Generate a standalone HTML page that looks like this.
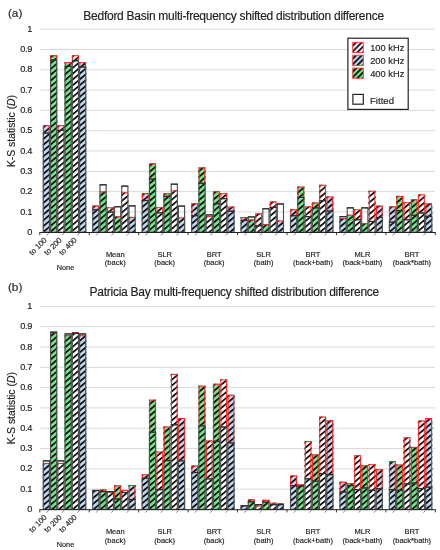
<!DOCTYPE html>
<html><head><meta charset="utf-8"><style>
html,body{margin:0;padding:0;background:#fff;}
svg{display:block;}
text{font-family:'Liberation Sans', Arial, sans-serif;fill:#222;stroke:#222;stroke-width:0.16px;}
</style></head><body>
<svg width="440" height="550" viewBox="0 0 440 550">
<defs>

<pattern id="pw" patternUnits="userSpaceOnUse" width="4.45" height="4.45" patternTransform="rotate(50)"><rect width="4.45" height="4.45" fill="#ffffff"/><rect width="1.65" height="4.45" fill="#000"/></pattern>
<pattern id="pb" patternUnits="userSpaceOnUse" width="4.45" height="4.45" patternTransform="rotate(50)"><rect width="4.45" height="4.45" fill="#bdd7ee"/><rect width="1.65" height="4.45" fill="#000"/></pattern>
<pattern id="pg" patternUnits="userSpaceOnUse" width="4.45" height="4.45" patternTransform="rotate(50)"><rect width="4.45" height="4.45" fill="#6ce888"/><rect width="1.65" height="4.45" fill="#000"/></pattern>
</defs>
<rect width="440" height="550" fill="#fff"/>
<line x1="39.8" x2="435" y1="211.90" y2="211.90" stroke="#d9d9d9" stroke-width="1"/>
<line x1="39.8" x2="435" y1="191.60" y2="191.60" stroke="#d9d9d9" stroke-width="1"/>
<line x1="39.8" x2="435" y1="171.30" y2="171.30" stroke="#d9d9d9" stroke-width="1"/>
<line x1="39.8" x2="435" y1="151.00" y2="151.00" stroke="#d9d9d9" stroke-width="1"/>
<line x1="39.8" x2="435" y1="130.70" y2="130.70" stroke="#d9d9d9" stroke-width="1"/>
<line x1="39.8" x2="435" y1="110.40" y2="110.40" stroke="#d9d9d9" stroke-width="1"/>
<line x1="39.8" x2="435" y1="90.10" y2="90.10" stroke="#d9d9d9" stroke-width="1"/>
<line x1="39.8" x2="435" y1="69.80" y2="69.80" stroke="#d9d9d9" stroke-width="1"/>
<line x1="39.8" x2="435" y1="49.50" y2="49.50" stroke="#d9d9d9" stroke-width="1"/>
<line x1="39.8" x2="435" y1="29.20" y2="29.20" stroke="#d9d9d9" stroke-width="1"/>
<text x="32.0" y="234.80" font-size="9.2" letter-spacing="-0.3" text-anchor="end">0</text>
<text x="32.0" y="214.50" font-size="9.2" letter-spacing="-0.3" text-anchor="end">0.1</text>
<text x="32.0" y="194.20" font-size="9.2" letter-spacing="-0.3" text-anchor="end">0.2</text>
<text x="32.0" y="173.90" font-size="9.2" letter-spacing="-0.3" text-anchor="end">0.3</text>
<text x="32.0" y="153.60" font-size="9.2" letter-spacing="-0.3" text-anchor="end">0.4</text>
<text x="32.0" y="133.30" font-size="9.2" letter-spacing="-0.3" text-anchor="end">0.5</text>
<text x="32.0" y="113.00" font-size="9.2" letter-spacing="-0.3" text-anchor="end">0.6</text>
<text x="32.0" y="92.70" font-size="9.2" letter-spacing="-0.3" text-anchor="end">0.7</text>
<text x="32.0" y="72.40" font-size="9.2" letter-spacing="-0.3" text-anchor="end">0.8</text>
<text x="32.0" y="52.10" font-size="9.2" letter-spacing="-0.3" text-anchor="end">0.9</text>
<text x="32.0" y="31.80" font-size="9.2" letter-spacing="-0.3" text-anchor="end">1</text>
<text x="233.6" y="19.70" font-size="12" letter-spacing="-0.265" text-anchor="middle">Bedford Basin multi-frequency shifted distribution difference</text>
<text x="7.9" y="17.40" font-size="11.8">(a)</text>
<text transform="translate(15.4,131.00) rotate(-90)" font-size="10.4" text-anchor="middle">K-S statistic (<tspan font-style="italic">D</tspan>)</text>
<rect x="42.77" y="125.20" width="7.25" height="107.00" fill="url(#pb)"/>
<rect x="43.07" y="125.20" width="6.65" height="1.00" fill="#ff2020"/>
<rect x="43.07" y="125.20" width="1.00" height="7.40" fill="#ff2020"/>
<rect x="48.72" y="125.20" width="1.00" height="7.40" fill="#ff2020"/>
<rect x="50.02" y="55.20" width="7.25" height="177.00" fill="url(#pg)"/>
<rect x="50.32" y="55.20" width="6.65" height="1.00" fill="#ff2020"/>
<rect x="50.32" y="55.20" width="1.00" height="4.30" fill="#ff2020"/>
<rect x="55.97" y="55.20" width="1.00" height="4.30" fill="#ff2020"/>
<rect x="57.27" y="125.20" width="7.25" height="107.00" fill="url(#pw)"/>
<rect x="57.57" y="125.20" width="6.65" height="1.00" fill="#ff2020"/>
<rect x="57.57" y="125.20" width="1.00" height="4.60" fill="#ff2020"/>
<rect x="63.22" y="125.20" width="1.00" height="4.60" fill="#ff2020"/>
<rect x="64.52" y="62.10" width="7.25" height="170.10" fill="url(#pg)"/>
<rect x="64.82" y="62.10" width="6.65" height="1.00" fill="#ff2020"/>
<rect x="64.82" y="62.10" width="1.00" height="3.70" fill="#ff2020"/>
<rect x="70.47" y="62.10" width="1.00" height="3.70" fill="#ff2020"/>
<rect x="71.77" y="55.20" width="7.25" height="177.00" fill="url(#pw)"/>
<rect x="72.07" y="55.20" width="6.65" height="1.00" fill="#ff2020"/>
<rect x="72.07" y="55.20" width="1.00" height="5.00" fill="#ff2020"/>
<rect x="77.72" y="55.20" width="1.00" height="5.00" fill="#ff2020"/>
<rect x="79.02" y="62.20" width="7.25" height="170.00" fill="url(#pb)"/>
<rect x="79.32" y="62.20" width="6.65" height="1.00" fill="#ff2020"/>
<rect x="79.32" y="62.20" width="1.00" height="4.20" fill="#ff2020"/>
<rect x="84.97" y="62.20" width="1.00" height="4.20" fill="#ff2020"/>
<rect x="43.32" y="133.15" width="6.15" height="99.05" fill="none" stroke="#505050" stroke-width="1.15"/>
<rect x="42.97" y="132.60" width="6.85" height="1.1" fill="#2a2a2a"/>
<rect x="50.57" y="60.05" width="6.15" height="172.15" fill="none" stroke="#505050" stroke-width="1.15"/>
<rect x="50.22" y="59.50" width="6.85" height="1.1" fill="#2a2a2a"/>
<rect x="57.82" y="130.35" width="6.15" height="101.85" fill="none" stroke="#505050" stroke-width="1.15"/>
<rect x="57.47" y="129.80" width="6.85" height="1.1" fill="#2a2a2a"/>
<rect x="65.07" y="66.35" width="6.15" height="165.85" fill="none" stroke="#505050" stroke-width="1.15"/>
<rect x="64.72" y="65.80" width="6.85" height="1.1" fill="#2a2a2a"/>
<rect x="72.32" y="60.75" width="6.15" height="171.45" fill="none" stroke="#505050" stroke-width="1.15"/>
<rect x="71.97" y="60.20" width="6.85" height="1.1" fill="#2a2a2a"/>
<rect x="79.57" y="66.95" width="6.15" height="165.25" fill="none" stroke="#505050" stroke-width="1.15"/>
<rect x="79.22" y="66.40" width="6.85" height="1.1" fill="#2a2a2a"/>
<rect x="92.21" y="205.50" width="7.25" height="26.70" fill="url(#pb)"/>
<rect x="92.51" y="205.50" width="6.65" height="1.00" fill="#ff2020"/>
<rect x="92.51" y="205.50" width="1.00" height="3.80" fill="#ff2020"/>
<rect x="98.16" y="205.50" width="1.00" height="3.80" fill="#ff2020"/>
<rect x="99.46" y="191.40" width="7.25" height="40.80" fill="url(#pg)"/>
<rect x="99.76" y="191.40" width="6.65" height="1.00" fill="#ff2020"/>
<rect x="106.71" y="207.30" width="7.25" height="24.90" fill="url(#pw)"/>
<rect x="107.01" y="207.30" width="6.65" height="1.00" fill="#ff2020"/>
<rect x="107.01" y="207.30" width="1.00" height="4.20" fill="#ff2020"/>
<rect x="112.66" y="207.30" width="1.00" height="4.20" fill="#ff2020"/>
<rect x="113.96" y="216.30" width="7.25" height="15.90" fill="url(#pg)"/>
<rect x="114.26" y="216.30" width="6.65" height="1.00" fill="#ff2020"/>
<rect x="121.21" y="192.40" width="7.25" height="39.80" fill="url(#pw)"/>
<rect x="121.51" y="192.40" width="6.65" height="1.00" fill="#ff2020"/>
<rect x="128.46" y="216.90" width="7.25" height="15.30" fill="url(#pb)"/>
<rect x="128.76" y="216.90" width="6.65" height="1.00" fill="#ff2020"/>
<rect x="92.76" y="209.85" width="6.15" height="22.35" fill="none" stroke="#505050" stroke-width="1.15"/>
<rect x="92.41" y="209.30" width="6.85" height="1.1" fill="#2a2a2a"/>
<rect x="100.01" y="184.80" width="6.15" height="47.40" fill="none" stroke="#505050" stroke-width="1.15"/>
<rect x="99.66" y="184.25" width="6.85" height="1.1" fill="#2a2a2a"/>
<rect x="107.26" y="212.05" width="6.15" height="20.15" fill="none" stroke="#505050" stroke-width="1.15"/>
<rect x="106.91" y="211.50" width="6.85" height="1.1" fill="#2a2a2a"/>
<rect x="114.51" y="206.75" width="6.15" height="25.45" fill="none" stroke="#505050" stroke-width="1.15"/>
<rect x="114.16" y="206.20" width="6.85" height="1.1" fill="#2a2a2a"/>
<rect x="121.76" y="186.15" width="6.15" height="46.05" fill="none" stroke="#505050" stroke-width="1.15"/>
<rect x="121.41" y="185.60" width="6.85" height="1.1" fill="#2a2a2a"/>
<rect x="129.01" y="205.85" width="6.15" height="26.35" fill="none" stroke="#505050" stroke-width="1.15"/>
<rect x="128.66" y="205.30" width="6.85" height="1.1" fill="#2a2a2a"/>
<rect x="141.65" y="193.00" width="7.25" height="39.20" fill="url(#pb)"/>
<rect x="141.95" y="193.00" width="6.65" height="1.00" fill="#ff2020"/>
<rect x="141.95" y="193.00" width="1.00" height="7.00" fill="#ff2020"/>
<rect x="147.60" y="193.00" width="1.00" height="7.00" fill="#ff2020"/>
<rect x="148.90" y="163.30" width="7.25" height="68.90" fill="url(#pg)"/>
<rect x="149.20" y="163.30" width="6.65" height="1.00" fill="#ff2020"/>
<rect x="149.20" y="163.30" width="1.00" height="15.20" fill="#ff2020"/>
<rect x="154.85" y="163.30" width="1.00" height="15.20" fill="#ff2020"/>
<rect x="156.15" y="207.20" width="7.25" height="25.00" fill="url(#pw)"/>
<rect x="156.45" y="207.20" width="6.65" height="1.00" fill="#ff2020"/>
<rect x="156.45" y="207.20" width="1.00" height="5.10" fill="#ff2020"/>
<rect x="162.10" y="207.20" width="1.00" height="5.10" fill="#ff2020"/>
<rect x="163.40" y="193.20" width="7.25" height="39.00" fill="url(#pg)"/>
<rect x="163.70" y="193.20" width="6.65" height="1.00" fill="#ff2020"/>
<rect x="163.70" y="193.20" width="1.00" height="2.60" fill="#ff2020"/>
<rect x="169.35" y="193.20" width="1.00" height="2.60" fill="#ff2020"/>
<rect x="170.65" y="190.40" width="7.25" height="41.80" fill="url(#pw)"/>
<rect x="170.95" y="190.40" width="6.65" height="1.00" fill="#ff2020"/>
<rect x="177.90" y="217.40" width="7.25" height="14.80" fill="url(#pb)"/>
<rect x="178.20" y="217.40" width="6.65" height="1.00" fill="#ff2020"/>
<rect x="142.20" y="200.55" width="6.15" height="31.65" fill="none" stroke="#505050" stroke-width="1.15"/>
<rect x="141.85" y="200.00" width="6.85" height="1.1" fill="#2a2a2a"/>
<rect x="149.45" y="179.05" width="6.15" height="53.15" fill="none" stroke="#505050" stroke-width="1.15"/>
<rect x="149.10" y="178.50" width="6.85" height="1.1" fill="#2a2a2a"/>
<rect x="156.70" y="212.85" width="6.15" height="19.35" fill="none" stroke="#505050" stroke-width="1.15"/>
<rect x="156.35" y="212.30" width="6.85" height="1.1" fill="#2a2a2a"/>
<rect x="163.95" y="196.35" width="6.15" height="35.85" fill="none" stroke="#505050" stroke-width="1.15"/>
<rect x="163.60" y="195.80" width="6.85" height="1.1" fill="#2a2a2a"/>
<rect x="171.20" y="184.15" width="6.15" height="48.05" fill="none" stroke="#505050" stroke-width="1.15"/>
<rect x="170.85" y="183.60" width="6.85" height="1.1" fill="#2a2a2a"/>
<rect x="178.45" y="206.05" width="6.15" height="26.15" fill="none" stroke="#505050" stroke-width="1.15"/>
<rect x="178.10" y="205.50" width="6.85" height="1.1" fill="#2a2a2a"/>
<rect x="191.09" y="203.20" width="7.25" height="29.00" fill="url(#pb)"/>
<rect x="191.39" y="203.20" width="6.65" height="1.00" fill="#ff2020"/>
<rect x="191.39" y="203.20" width="1.00" height="11.90" fill="#ff2020"/>
<rect x="197.04" y="203.20" width="1.00" height="11.90" fill="#ff2020"/>
<rect x="198.34" y="167.40" width="7.25" height="64.80" fill="url(#pg)"/>
<rect x="198.64" y="167.40" width="6.65" height="1.00" fill="#ff2020"/>
<rect x="198.64" y="167.40" width="1.00" height="15.30" fill="#ff2020"/>
<rect x="204.29" y="167.40" width="1.00" height="15.30" fill="#ff2020"/>
<rect x="205.59" y="215.90" width="7.25" height="16.30" fill="url(#pw)"/>
<rect x="205.89" y="215.90" width="6.65" height="1.00" fill="#ff2020"/>
<rect x="212.84" y="191.25" width="7.25" height="40.95" fill="url(#pg)"/>
<rect x="213.14" y="191.25" width="6.65" height="1.00" fill="#ff2020"/>
<rect x="213.14" y="191.25" width="1.00" height="11.95" fill="#ff2020"/>
<rect x="218.79" y="191.25" width="1.00" height="11.95" fill="#ff2020"/>
<rect x="220.09" y="193.20" width="7.25" height="39.00" fill="url(#pw)"/>
<rect x="220.39" y="193.20" width="6.65" height="1.00" fill="#ff2020"/>
<rect x="220.39" y="193.20" width="1.00" height="4.90" fill="#ff2020"/>
<rect x="226.04" y="193.20" width="1.00" height="4.90" fill="#ff2020"/>
<rect x="227.34" y="206.60" width="7.25" height="25.60" fill="url(#pb)"/>
<rect x="227.64" y="206.60" width="6.65" height="1.00" fill="#ff2020"/>
<rect x="227.64" y="206.60" width="1.00" height="4.00" fill="#ff2020"/>
<rect x="233.29" y="206.60" width="1.00" height="4.00" fill="#ff2020"/>
<rect x="191.64" y="215.65" width="6.15" height="16.55" fill="none" stroke="#505050" stroke-width="1.15"/>
<rect x="191.29" y="215.10" width="6.85" height="1.1" fill="#2a2a2a"/>
<rect x="198.89" y="183.25" width="6.15" height="48.95" fill="none" stroke="#505050" stroke-width="1.15"/>
<rect x="198.54" y="182.70" width="6.85" height="1.1" fill="#2a2a2a"/>
<rect x="206.14" y="214.85" width="6.15" height="17.35" fill="none" stroke="#505050" stroke-width="1.15"/>
<rect x="205.79" y="214.30" width="6.85" height="1.1" fill="#2a2a2a"/>
<rect x="213.39" y="203.75" width="6.15" height="28.45" fill="none" stroke="#505050" stroke-width="1.15"/>
<rect x="213.04" y="203.20" width="6.85" height="1.1" fill="#2a2a2a"/>
<rect x="220.64" y="198.65" width="6.15" height="33.55" fill="none" stroke="#505050" stroke-width="1.15"/>
<rect x="220.29" y="198.10" width="6.85" height="1.1" fill="#2a2a2a"/>
<rect x="227.89" y="211.15" width="6.15" height="21.05" fill="none" stroke="#505050" stroke-width="1.15"/>
<rect x="227.54" y="210.60" width="6.85" height="1.1" fill="#2a2a2a"/>
<rect x="240.53" y="217.00" width="7.25" height="15.20" fill="url(#pb)"/>
<rect x="240.83" y="217.00" width="6.65" height="1.00" fill="#ff2020"/>
<rect x="240.83" y="217.00" width="1.00" height="2.80" fill="#ff2020"/>
<rect x="246.48" y="217.00" width="1.00" height="2.80" fill="#ff2020"/>
<rect x="247.78" y="219.50" width="7.25" height="12.70" fill="url(#pg)"/>
<rect x="248.08" y="219.50" width="6.65" height="1.00" fill="#ff2020"/>
<rect x="255.03" y="213.30" width="7.25" height="18.90" fill="url(#pw)"/>
<rect x="255.33" y="213.30" width="6.65" height="1.00" fill="#ff2020"/>
<rect x="255.33" y="213.30" width="1.00" height="11.90" fill="#ff2020"/>
<rect x="260.98" y="213.30" width="1.00" height="11.90" fill="#ff2020"/>
<rect x="262.28" y="224.10" width="7.25" height="8.10" fill="url(#pg)"/>
<rect x="262.58" y="224.10" width="6.65" height="1.00" fill="#ff2020"/>
<rect x="269.53" y="201.40" width="7.25" height="30.80" fill="url(#pw)"/>
<rect x="269.83" y="201.40" width="6.65" height="1.00" fill="#ff2020"/>
<rect x="269.83" y="201.40" width="1.00" height="5.40" fill="#ff2020"/>
<rect x="275.48" y="201.40" width="1.00" height="5.40" fill="#ff2020"/>
<rect x="276.78" y="220.50" width="7.25" height="11.70" fill="url(#pb)"/>
<rect x="277.08" y="220.50" width="6.65" height="1.00" fill="#ff2020"/>
<rect x="241.08" y="220.35" width="6.15" height="11.85" fill="none" stroke="#505050" stroke-width="1.15"/>
<rect x="240.73" y="219.80" width="6.85" height="1.1" fill="#2a2a2a"/>
<rect x="248.33" y="216.95" width="6.15" height="15.25" fill="none" stroke="#505050" stroke-width="1.15"/>
<rect x="247.98" y="216.40" width="6.85" height="1.1" fill="#2a2a2a"/>
<rect x="255.58" y="225.75" width="6.15" height="6.45" fill="none" stroke="#505050" stroke-width="1.15"/>
<rect x="255.23" y="225.20" width="6.85" height="1.1" fill="#2a2a2a"/>
<rect x="262.83" y="208.75" width="6.15" height="23.45" fill="none" stroke="#505050" stroke-width="1.15"/>
<rect x="262.48" y="208.20" width="6.85" height="1.1" fill="#2a2a2a"/>
<rect x="270.08" y="207.35" width="6.15" height="24.85" fill="none" stroke="#505050" stroke-width="1.15"/>
<rect x="269.73" y="206.80" width="6.85" height="1.1" fill="#2a2a2a"/>
<rect x="277.33" y="203.95" width="6.15" height="28.25" fill="none" stroke="#505050" stroke-width="1.15"/>
<rect x="276.98" y="203.40" width="6.85" height="1.1" fill="#2a2a2a"/>
<rect x="289.97" y="209.30" width="7.25" height="22.90" fill="url(#pb)"/>
<rect x="290.27" y="209.30" width="6.65" height="1.00" fill="#ff2020"/>
<rect x="290.27" y="209.30" width="1.00" height="5.90" fill="#ff2020"/>
<rect x="295.92" y="209.30" width="1.00" height="5.90" fill="#ff2020"/>
<rect x="297.22" y="186.60" width="7.25" height="45.60" fill="url(#pg)"/>
<rect x="297.52" y="186.60" width="6.65" height="1.00" fill="#ff2020"/>
<rect x="297.52" y="186.60" width="1.00" height="10.20" fill="#ff2020"/>
<rect x="303.17" y="186.60" width="1.00" height="10.20" fill="#ff2020"/>
<rect x="304.47" y="206.40" width="7.25" height="25.80" fill="url(#pw)"/>
<rect x="304.77" y="206.40" width="6.65" height="1.00" fill="#ff2020"/>
<rect x="304.77" y="206.40" width="1.00" height="9.70" fill="#ff2020"/>
<rect x="310.42" y="206.40" width="1.00" height="9.70" fill="#ff2020"/>
<rect x="311.72" y="202.50" width="7.25" height="29.70" fill="url(#pg)"/>
<rect x="312.02" y="202.50" width="6.65" height="1.00" fill="#ff2020"/>
<rect x="312.02" y="202.50" width="1.00" height="4.80" fill="#ff2020"/>
<rect x="317.67" y="202.50" width="1.00" height="4.80" fill="#ff2020"/>
<rect x="318.97" y="184.80" width="7.25" height="47.40" fill="url(#pw)"/>
<rect x="319.27" y="184.80" width="6.65" height="1.00" fill="#ff2020"/>
<rect x="319.27" y="184.80" width="1.00" height="15.40" fill="#ff2020"/>
<rect x="324.92" y="184.80" width="1.00" height="15.40" fill="#ff2020"/>
<rect x="326.22" y="196.50" width="7.25" height="35.70" fill="url(#pb)"/>
<rect x="326.52" y="196.50" width="6.65" height="1.00" fill="#ff2020"/>
<rect x="326.52" y="196.50" width="1.00" height="14.00" fill="#ff2020"/>
<rect x="332.17" y="196.50" width="1.00" height="14.00" fill="#ff2020"/>
<rect x="290.52" y="215.75" width="6.15" height="16.45" fill="none" stroke="#505050" stroke-width="1.15"/>
<rect x="290.17" y="215.20" width="6.85" height="1.1" fill="#2a2a2a"/>
<rect x="297.77" y="197.35" width="6.15" height="34.85" fill="none" stroke="#505050" stroke-width="1.15"/>
<rect x="297.42" y="196.80" width="6.85" height="1.1" fill="#2a2a2a"/>
<rect x="305.02" y="216.65" width="6.15" height="15.55" fill="none" stroke="#505050" stroke-width="1.15"/>
<rect x="304.67" y="216.10" width="6.85" height="1.1" fill="#2a2a2a"/>
<rect x="312.27" y="207.85" width="6.15" height="24.35" fill="none" stroke="#505050" stroke-width="1.15"/>
<rect x="311.92" y="207.30" width="6.85" height="1.1" fill="#2a2a2a"/>
<rect x="319.52" y="200.75" width="6.15" height="31.45" fill="none" stroke="#505050" stroke-width="1.15"/>
<rect x="319.17" y="200.20" width="6.85" height="1.1" fill="#2a2a2a"/>
<rect x="326.77" y="211.05" width="6.15" height="21.15" fill="none" stroke="#505050" stroke-width="1.15"/>
<rect x="326.42" y="210.50" width="6.85" height="1.1" fill="#2a2a2a"/>
<rect x="339.41" y="218.10" width="7.25" height="14.10" fill="url(#pb)"/>
<rect x="339.71" y="218.10" width="6.65" height="1.00" fill="#ff2020"/>
<rect x="346.66" y="214.70" width="7.25" height="17.50" fill="url(#pg)"/>
<rect x="346.96" y="214.70" width="6.65" height="1.00" fill="#ff2020"/>
<rect x="353.91" y="209.30" width="7.25" height="22.90" fill="url(#pw)"/>
<rect x="354.21" y="209.30" width="6.65" height="1.00" fill="#ff2020"/>
<rect x="354.21" y="209.30" width="1.00" height="9.90" fill="#ff2020"/>
<rect x="359.86" y="209.30" width="1.00" height="9.90" fill="#ff2020"/>
<rect x="361.16" y="223.20" width="7.25" height="9.00" fill="url(#pg)"/>
<rect x="361.46" y="223.20" width="6.65" height="1.00" fill="#ff2020"/>
<rect x="368.41" y="190.80" width="7.25" height="41.40" fill="url(#pw)"/>
<rect x="368.71" y="190.80" width="6.65" height="1.00" fill="#ff2020"/>
<rect x="368.71" y="190.80" width="1.00" height="30.10" fill="#ff2020"/>
<rect x="374.36" y="190.80" width="1.00" height="30.10" fill="#ff2020"/>
<rect x="375.66" y="205.60" width="7.25" height="26.60" fill="url(#pb)"/>
<rect x="375.96" y="205.60" width="6.65" height="1.00" fill="#ff2020"/>
<rect x="375.96" y="205.60" width="1.00" height="11.30" fill="#ff2020"/>
<rect x="381.61" y="205.60" width="1.00" height="11.30" fill="#ff2020"/>
<rect x="339.96" y="216.65" width="6.15" height="15.55" fill="none" stroke="#505050" stroke-width="1.15"/>
<rect x="339.61" y="216.10" width="6.85" height="1.1" fill="#2a2a2a"/>
<rect x="347.21" y="207.85" width="6.15" height="24.35" fill="none" stroke="#505050" stroke-width="1.15"/>
<rect x="346.86" y="207.30" width="6.85" height="1.1" fill="#2a2a2a"/>
<rect x="354.46" y="219.75" width="6.15" height="12.45" fill="none" stroke="#505050" stroke-width="1.15"/>
<rect x="354.11" y="219.20" width="6.85" height="1.1" fill="#2a2a2a"/>
<rect x="361.71" y="207.85" width="6.15" height="24.35" fill="none" stroke="#505050" stroke-width="1.15"/>
<rect x="361.36" y="207.30" width="6.85" height="1.1" fill="#2a2a2a"/>
<rect x="368.96" y="221.45" width="6.15" height="10.75" fill="none" stroke="#505050" stroke-width="1.15"/>
<rect x="368.61" y="220.90" width="6.85" height="1.1" fill="#2a2a2a"/>
<rect x="376.21" y="217.45" width="6.15" height="14.75" fill="none" stroke="#505050" stroke-width="1.15"/>
<rect x="375.86" y="216.90" width="6.85" height="1.1" fill="#2a2a2a"/>
<rect x="388.85" y="206.40" width="7.25" height="25.80" fill="url(#pb)"/>
<rect x="389.15" y="206.40" width="6.65" height="1.00" fill="#ff2020"/>
<rect x="389.15" y="206.40" width="1.00" height="15.10" fill="#ff2020"/>
<rect x="394.80" y="206.40" width="1.00" height="15.10" fill="#ff2020"/>
<rect x="396.10" y="195.90" width="7.25" height="36.30" fill="url(#pg)"/>
<rect x="396.40" y="195.90" width="6.65" height="1.00" fill="#ff2020"/>
<rect x="396.40" y="195.90" width="1.00" height="14.20" fill="#ff2020"/>
<rect x="402.05" y="195.90" width="1.00" height="14.20" fill="#ff2020"/>
<rect x="403.35" y="202.20" width="7.25" height="30.00" fill="url(#pw)"/>
<rect x="403.65" y="202.20" width="6.65" height="1.00" fill="#ff2020"/>
<rect x="403.65" y="202.20" width="1.00" height="17.00" fill="#ff2020"/>
<rect x="409.30" y="202.20" width="1.00" height="17.00" fill="#ff2020"/>
<rect x="410.60" y="199.30" width="7.25" height="32.90" fill="url(#pg)"/>
<rect x="410.90" y="199.30" width="6.65" height="1.00" fill="#ff2020"/>
<rect x="410.90" y="199.30" width="1.00" height="15.40" fill="#ff2020"/>
<rect x="416.55" y="199.30" width="1.00" height="15.40" fill="#ff2020"/>
<rect x="417.85" y="194.40" width="7.25" height="37.80" fill="url(#pw)"/>
<rect x="418.15" y="194.40" width="6.65" height="1.00" fill="#ff2020"/>
<rect x="418.15" y="194.40" width="1.00" height="18.00" fill="#ff2020"/>
<rect x="423.80" y="194.40" width="1.00" height="18.00" fill="#ff2020"/>
<rect x="425.10" y="203.30" width="7.25" height="28.90" fill="url(#pb)"/>
<rect x="425.40" y="203.30" width="6.65" height="1.00" fill="#ff2020"/>
<rect x="425.40" y="203.30" width="1.00" height="12.50" fill="#ff2020"/>
<rect x="431.05" y="203.30" width="1.00" height="12.50" fill="#ff2020"/>
<rect x="389.40" y="222.05" width="6.15" height="10.15" fill="none" stroke="#505050" stroke-width="1.15"/>
<rect x="389.05" y="221.50" width="6.85" height="1.1" fill="#2a2a2a"/>
<rect x="396.65" y="210.65" width="6.15" height="21.55" fill="none" stroke="#505050" stroke-width="1.15"/>
<rect x="396.30" y="210.10" width="6.85" height="1.1" fill="#2a2a2a"/>
<rect x="403.90" y="219.75" width="6.15" height="12.45" fill="none" stroke="#505050" stroke-width="1.15"/>
<rect x="403.55" y="219.20" width="6.85" height="1.1" fill="#2a2a2a"/>
<rect x="411.15" y="215.25" width="6.15" height="16.95" fill="none" stroke="#505050" stroke-width="1.15"/>
<rect x="410.80" y="214.70" width="6.85" height="1.1" fill="#2a2a2a"/>
<rect x="418.40" y="212.95" width="6.15" height="19.25" fill="none" stroke="#505050" stroke-width="1.15"/>
<rect x="418.05" y="212.40" width="6.85" height="1.1" fill="#2a2a2a"/>
<rect x="425.65" y="216.35" width="6.15" height="15.85" fill="none" stroke="#505050" stroke-width="1.15"/>
<rect x="425.30" y="215.80" width="6.85" height="1.1" fill="#2a2a2a"/>
<line x1="39.5" x2="435.6" y1="232.50" y2="232.50" stroke="#222" stroke-width="1"/>
<line x1="48.70" x2="46.60" y1="233.10" y2="235.50" stroke="#777" stroke-width="0.9"/>
<line x1="64.10" x2="62.00" y1="233.10" y2="235.50" stroke="#777" stroke-width="0.9"/>
<line x1="79.50" x2="77.40" y1="233.10" y2="235.50" stroke="#777" stroke-width="0.9"/>
<line x1="98.14" x2="96.04" y1="233.10" y2="235.50" stroke="#777" stroke-width="0.9"/>
<line x1="113.54" x2="111.44" y1="233.10" y2="235.50" stroke="#777" stroke-width="0.9"/>
<line x1="128.94" x2="126.84" y1="233.10" y2="235.50" stroke="#777" stroke-width="0.9"/>
<line x1="147.58" x2="145.48" y1="233.10" y2="235.50" stroke="#777" stroke-width="0.9"/>
<line x1="162.98" x2="160.88" y1="233.10" y2="235.50" stroke="#777" stroke-width="0.9"/>
<line x1="178.38" x2="176.28" y1="233.10" y2="235.50" stroke="#777" stroke-width="0.9"/>
<line x1="197.02" x2="194.92" y1="233.10" y2="235.50" stroke="#777" stroke-width="0.9"/>
<line x1="212.42" x2="210.32" y1="233.10" y2="235.50" stroke="#777" stroke-width="0.9"/>
<line x1="227.82" x2="225.72" y1="233.10" y2="235.50" stroke="#777" stroke-width="0.9"/>
<line x1="246.46" x2="244.36" y1="233.10" y2="235.50" stroke="#777" stroke-width="0.9"/>
<line x1="261.86" x2="259.76" y1="233.10" y2="235.50" stroke="#777" stroke-width="0.9"/>
<line x1="277.26" x2="275.16" y1="233.10" y2="235.50" stroke="#777" stroke-width="0.9"/>
<line x1="295.90" x2="293.80" y1="233.10" y2="235.50" stroke="#777" stroke-width="0.9"/>
<line x1="311.30" x2="309.20" y1="233.10" y2="235.50" stroke="#777" stroke-width="0.9"/>
<line x1="326.70" x2="324.60" y1="233.10" y2="235.50" stroke="#777" stroke-width="0.9"/>
<line x1="345.34" x2="343.24" y1="233.10" y2="235.50" stroke="#777" stroke-width="0.9"/>
<line x1="360.74" x2="358.64" y1="233.10" y2="235.50" stroke="#777" stroke-width="0.9"/>
<line x1="376.14" x2="374.04" y1="233.10" y2="235.50" stroke="#777" stroke-width="0.9"/>
<line x1="394.78" x2="392.68" y1="233.10" y2="235.50" stroke="#777" stroke-width="0.9"/>
<line x1="410.18" x2="408.08" y1="233.10" y2="235.50" stroke="#777" stroke-width="0.9"/>
<line x1="425.58" x2="423.48" y1="233.10" y2="235.50" stroke="#777" stroke-width="0.9"/>
<line x1="39.80" x2="39.80" y1="232.20" y2="235.20" stroke="#222" stroke-width="0.9"/>
<line x1="89.24" x2="89.24" y1="232.20" y2="235.20" stroke="#222" stroke-width="0.9"/>
<line x1="138.68" x2="138.68" y1="232.20" y2="235.20" stroke="#222" stroke-width="0.9"/>
<line x1="188.12" x2="188.12" y1="232.20" y2="235.20" stroke="#222" stroke-width="0.9"/>
<line x1="237.56" x2="237.56" y1="232.20" y2="235.20" stroke="#222" stroke-width="0.9"/>
<line x1="287.00" x2="287.00" y1="232.20" y2="235.20" stroke="#222" stroke-width="0.9"/>
<line x1="336.44" x2="336.44" y1="232.20" y2="235.20" stroke="#222" stroke-width="0.9"/>
<line x1="385.88" x2="385.88" y1="232.20" y2="235.20" stroke="#222" stroke-width="0.9"/>
<line x1="435.32" x2="435.32" y1="232.20" y2="235.20" stroke="#222" stroke-width="0.9"/>
<text transform="translate(47.30,240.70) rotate(-45)" font-size="7.7" text-anchor="end">to 100</text>
<text transform="translate(62.30,240.70) rotate(-45)" font-size="7.7" text-anchor="end">to 200</text>
<text transform="translate(77.30,240.70) rotate(-45)" font-size="7.7" text-anchor="end">to 400</text>
<text x="65.52" y="270.00" font-size="7.3" text-anchor="middle">None</text>
<text x="115.26" y="256.80" font-size="7.5" text-anchor="middle">Mean</text>
<text x="115.26" y="265.40" font-size="7.5" text-anchor="middle">(back)</text>
<text x="164.70" y="256.80" font-size="7.5" text-anchor="middle">SLR</text>
<text x="164.70" y="265.40" font-size="7.5" text-anchor="middle">(back)</text>
<text x="214.14" y="256.80" font-size="7.5" text-anchor="middle">BRT</text>
<text x="214.14" y="265.40" font-size="7.5" text-anchor="middle">(back)</text>
<text x="263.58" y="256.80" font-size="7.5" text-anchor="middle">SLR</text>
<text x="263.58" y="265.40" font-size="7.5" text-anchor="middle">(bath)</text>
<text x="313.02" y="256.80" font-size="7.5" text-anchor="middle">BRT</text>
<text x="313.02" y="265.40" font-size="7.5" text-anchor="middle">(back+bath)</text>
<text x="362.46" y="256.80" font-size="7.5" text-anchor="middle">MLR</text>
<text x="362.46" y="265.40" font-size="7.5" text-anchor="middle">(back+bath)</text>
<text x="411.90" y="256.80" font-size="7.5" text-anchor="middle">BRT</text>
<text x="411.90" y="265.40" font-size="7.5" text-anchor="middle">(back*bath)</text>
<line x1="39.8" x2="435" y1="489.10" y2="489.10" stroke="#d9d9d9" stroke-width="1"/>
<line x1="39.8" x2="435" y1="468.80" y2="468.80" stroke="#d9d9d9" stroke-width="1"/>
<line x1="39.8" x2="435" y1="448.50" y2="448.50" stroke="#d9d9d9" stroke-width="1"/>
<line x1="39.8" x2="435" y1="428.20" y2="428.20" stroke="#d9d9d9" stroke-width="1"/>
<line x1="39.8" x2="435" y1="407.90" y2="407.90" stroke="#d9d9d9" stroke-width="1"/>
<line x1="39.8" x2="435" y1="387.60" y2="387.60" stroke="#d9d9d9" stroke-width="1"/>
<line x1="39.8" x2="435" y1="367.30" y2="367.30" stroke="#d9d9d9" stroke-width="1"/>
<line x1="39.8" x2="435" y1="347.00" y2="347.00" stroke="#d9d9d9" stroke-width="1"/>
<line x1="39.8" x2="435" y1="326.70" y2="326.70" stroke="#d9d9d9" stroke-width="1"/>
<line x1="39.8" x2="435" y1="306.40" y2="306.40" stroke="#d9d9d9" stroke-width="1"/>
<text x="32.0" y="512.00" font-size="9.2" letter-spacing="-0.3" text-anchor="end">0</text>
<text x="32.0" y="491.70" font-size="9.2" letter-spacing="-0.3" text-anchor="end">0.1</text>
<text x="32.0" y="471.40" font-size="9.2" letter-spacing="-0.3" text-anchor="end">0.2</text>
<text x="32.0" y="451.10" font-size="9.2" letter-spacing="-0.3" text-anchor="end">0.3</text>
<text x="32.0" y="430.80" font-size="9.2" letter-spacing="-0.3" text-anchor="end">0.4</text>
<text x="32.0" y="410.50" font-size="9.2" letter-spacing="-0.3" text-anchor="end">0.5</text>
<text x="32.0" y="390.20" font-size="9.2" letter-spacing="-0.3" text-anchor="end">0.6</text>
<text x="32.0" y="369.90" font-size="9.2" letter-spacing="-0.3" text-anchor="end">0.7</text>
<text x="32.0" y="349.60" font-size="9.2" letter-spacing="-0.3" text-anchor="end">0.8</text>
<text x="32.0" y="329.30" font-size="9.2" letter-spacing="-0.3" text-anchor="end">0.9</text>
<text x="32.0" y="309.00" font-size="9.2" letter-spacing="-0.3" text-anchor="end">1</text>
<text x="234.3" y="295.90" font-size="12" letter-spacing="-0.265" text-anchor="middle">Patricia Bay multi-frequency shifted distribution difference</text>
<text x="7.9" y="291.20" font-size="11.8">(b)</text>
<text transform="translate(15.4,408.20) rotate(-90)" font-size="10.4" text-anchor="middle">K-S statistic (<tspan font-style="italic">D</tspan>)</text>
<rect x="42.77" y="463.00" width="7.25" height="46.40" fill="url(#pb)"/>
<rect x="43.07" y="463.00" width="6.65" height="1.00" fill="#ff2020"/>
<rect x="50.02" y="332.30" width="7.25" height="177.10" fill="url(#pg)"/>
<rect x="50.32" y="332.30" width="6.65" height="1.00" fill="#ff2020"/>
<rect x="57.27" y="463.00" width="7.25" height="46.40" fill="url(#pw)"/>
<rect x="57.57" y="463.00" width="6.65" height="1.00" fill="#ff2020"/>
<rect x="64.52" y="335.20" width="7.25" height="174.20" fill="url(#pg)"/>
<rect x="64.82" y="335.20" width="6.65" height="1.00" fill="#ff2020"/>
<rect x="71.77" y="332.00" width="7.25" height="177.40" fill="url(#pw)"/>
<rect x="72.07" y="332.00" width="6.65" height="1.00" fill="#ff2020"/>
<rect x="72.07" y="332.00" width="1.00" height="0.70" fill="#ff2020"/>
<rect x="77.72" y="332.00" width="1.00" height="0.70" fill="#ff2020"/>
<rect x="79.02" y="335.20" width="7.25" height="174.20" fill="url(#pb)"/>
<rect x="79.32" y="335.20" width="6.65" height="1.00" fill="#ff2020"/>
<rect x="43.32" y="460.85" width="6.15" height="48.55" fill="none" stroke="#505050" stroke-width="1.15"/>
<rect x="42.97" y="460.30" width="6.85" height="1.1" fill="#2a2a2a"/>
<rect x="50.57" y="332.15" width="6.15" height="177.25" fill="none" stroke="#505050" stroke-width="1.15"/>
<rect x="50.22" y="331.60" width="6.85" height="1.1" fill="#2a2a2a"/>
<rect x="57.82" y="460.85" width="6.15" height="48.55" fill="none" stroke="#505050" stroke-width="1.15"/>
<rect x="57.47" y="460.30" width="6.85" height="1.1" fill="#2a2a2a"/>
<rect x="65.07" y="333.95" width="6.15" height="175.45" fill="none" stroke="#505050" stroke-width="1.15"/>
<rect x="64.72" y="333.40" width="6.85" height="1.1" fill="#2a2a2a"/>
<rect x="72.32" y="333.25" width="6.15" height="176.15" fill="none" stroke="#505050" stroke-width="1.15"/>
<rect x="71.97" y="332.70" width="6.85" height="1.1" fill="#2a2a2a"/>
<rect x="79.57" y="333.95" width="6.15" height="175.45" fill="none" stroke="#505050" stroke-width="1.15"/>
<rect x="79.22" y="333.40" width="6.85" height="1.1" fill="#2a2a2a"/>
<rect x="92.21" y="490.10" width="7.25" height="19.30" fill="url(#pb)"/>
<rect x="92.51" y="490.10" width="6.65" height="1.00" fill="#ff2020"/>
<rect x="99.46" y="489.50" width="7.25" height="19.90" fill="url(#pg)"/>
<rect x="99.76" y="489.50" width="6.65" height="1.00" fill="#ff2020"/>
<rect x="99.76" y="489.50" width="1.00" height="1.50" fill="#ff2020"/>
<rect x="105.41" y="489.50" width="1.00" height="1.50" fill="#ff2020"/>
<rect x="106.71" y="491.60" width="7.25" height="17.80" fill="url(#pw)"/>
<rect x="107.01" y="491.60" width="6.65" height="1.00" fill="#ff2020"/>
<rect x="113.96" y="485.30" width="7.25" height="24.10" fill="url(#pg)"/>
<rect x="114.26" y="485.30" width="6.65" height="1.00" fill="#ff2020"/>
<rect x="114.26" y="485.30" width="1.00" height="13.10" fill="#ff2020"/>
<rect x="119.91" y="485.30" width="1.00" height="13.10" fill="#ff2020"/>
<rect x="121.21" y="489.90" width="7.25" height="19.50" fill="url(#pw)"/>
<rect x="121.51" y="489.90" width="6.65" height="1.00" fill="#ff2020"/>
<rect x="121.51" y="489.90" width="1.00" height="2.10" fill="#ff2020"/>
<rect x="127.16" y="489.90" width="1.00" height="2.10" fill="#ff2020"/>
<rect x="128.46" y="485.00" width="7.25" height="24.40" fill="url(#pb)"/>
<rect x="128.76" y="485.00" width="6.65" height="1.00" fill="#ff2020"/>
<rect x="128.76" y="485.00" width="1.00" height="14.00" fill="#ff2020"/>
<rect x="134.41" y="485.00" width="1.00" height="14.00" fill="#ff2020"/>
<rect x="92.76" y="490.45" width="6.15" height="18.95" fill="none" stroke="#505050" stroke-width="1.15"/>
<rect x="92.41" y="489.90" width="6.85" height="1.1" fill="#2a2a2a"/>
<rect x="100.01" y="491.55" width="6.15" height="17.85" fill="none" stroke="#505050" stroke-width="1.15"/>
<rect x="99.66" y="491.00" width="6.85" height="1.1" fill="#2a2a2a"/>
<rect x="107.26" y="491.75" width="6.15" height="17.65" fill="none" stroke="#505050" stroke-width="1.15"/>
<rect x="106.91" y="491.20" width="6.85" height="1.1" fill="#2a2a2a"/>
<rect x="114.51" y="498.95" width="6.15" height="10.45" fill="none" stroke="#505050" stroke-width="1.15"/>
<rect x="114.16" y="498.40" width="6.85" height="1.1" fill="#2a2a2a"/>
<rect x="121.76" y="492.55" width="6.15" height="16.85" fill="none" stroke="#505050" stroke-width="1.15"/>
<rect x="121.41" y="492.00" width="6.85" height="1.1" fill="#2a2a2a"/>
<rect x="129.01" y="499.55" width="6.15" height="9.85" fill="none" stroke="#505050" stroke-width="1.15"/>
<rect x="128.66" y="499.00" width="6.85" height="1.1" fill="#2a2a2a"/>
<rect x="141.65" y="474.30" width="7.25" height="35.10" fill="url(#pb)"/>
<rect x="141.95" y="474.30" width="6.65" height="1.00" fill="#ff2020"/>
<rect x="141.95" y="474.30" width="1.00" height="3.40" fill="#ff2020"/>
<rect x="147.60" y="474.30" width="1.00" height="3.40" fill="#ff2020"/>
<rect x="148.90" y="399.70" width="7.25" height="109.70" fill="url(#pg)"/>
<rect x="149.20" y="399.70" width="6.65" height="1.00" fill="#ff2020"/>
<rect x="149.20" y="399.70" width="1.00" height="31.90" fill="#ff2020"/>
<rect x="154.85" y="399.70" width="1.00" height="31.90" fill="#ff2020"/>
<rect x="156.15" y="451.50" width="7.25" height="57.90" fill="url(#pw)"/>
<rect x="156.45" y="451.50" width="6.65" height="1.00" fill="#ff2020"/>
<rect x="156.45" y="451.50" width="1.00" height="37.60" fill="#ff2020"/>
<rect x="162.10" y="451.50" width="1.00" height="37.60" fill="#ff2020"/>
<rect x="163.40" y="426.50" width="7.25" height="82.90" fill="url(#pg)"/>
<rect x="163.70" y="426.50" width="6.65" height="1.00" fill="#ff2020"/>
<rect x="163.70" y="426.50" width="1.00" height="33.50" fill="#ff2020"/>
<rect x="169.35" y="426.50" width="1.00" height="33.50" fill="#ff2020"/>
<rect x="170.65" y="373.90" width="7.25" height="135.50" fill="url(#pw)"/>
<rect x="170.95" y="373.90" width="6.65" height="1.00" fill="#ff2020"/>
<rect x="170.95" y="373.90" width="1.00" height="50.30" fill="#ff2020"/>
<rect x="176.60" y="373.90" width="1.00" height="50.30" fill="#ff2020"/>
<rect x="177.90" y="418.00" width="7.25" height="91.40" fill="url(#pb)"/>
<rect x="178.20" y="418.00" width="6.65" height="1.00" fill="#ff2020"/>
<rect x="178.20" y="418.00" width="1.00" height="42.30" fill="#ff2020"/>
<rect x="183.85" y="418.00" width="1.00" height="42.30" fill="#ff2020"/>
<rect x="142.20" y="478.25" width="6.15" height="31.15" fill="none" stroke="#505050" stroke-width="1.15"/>
<rect x="141.85" y="477.70" width="6.85" height="1.1" fill="#2a2a2a"/>
<rect x="149.45" y="432.15" width="6.15" height="77.25" fill="none" stroke="#505050" stroke-width="1.15"/>
<rect x="149.10" y="431.60" width="6.85" height="1.1" fill="#2a2a2a"/>
<rect x="156.70" y="489.65" width="6.15" height="19.75" fill="none" stroke="#505050" stroke-width="1.15"/>
<rect x="156.35" y="489.10" width="6.85" height="1.1" fill="#2a2a2a"/>
<rect x="163.95" y="460.55" width="6.15" height="48.85" fill="none" stroke="#505050" stroke-width="1.15"/>
<rect x="163.60" y="460.00" width="6.85" height="1.1" fill="#2a2a2a"/>
<rect x="171.20" y="424.75" width="6.15" height="84.65" fill="none" stroke="#505050" stroke-width="1.15"/>
<rect x="170.85" y="424.20" width="6.85" height="1.1" fill="#2a2a2a"/>
<rect x="178.45" y="460.85" width="6.15" height="48.55" fill="none" stroke="#505050" stroke-width="1.15"/>
<rect x="178.10" y="460.30" width="6.85" height="1.1" fill="#2a2a2a"/>
<rect x="191.09" y="465.50" width="7.25" height="43.90" fill="url(#pb)"/>
<rect x="191.39" y="465.50" width="6.65" height="1.00" fill="#ff2020"/>
<rect x="191.39" y="465.50" width="1.00" height="6.50" fill="#ff2020"/>
<rect x="197.04" y="465.50" width="1.00" height="6.50" fill="#ff2020"/>
<rect x="198.34" y="385.70" width="7.25" height="123.70" fill="url(#pg)"/>
<rect x="198.64" y="385.70" width="6.65" height="1.00" fill="#ff2020"/>
<rect x="198.64" y="385.70" width="1.00" height="39.60" fill="#ff2020"/>
<rect x="204.29" y="385.70" width="1.00" height="39.60" fill="#ff2020"/>
<rect x="205.59" y="440.50" width="7.25" height="68.90" fill="url(#pw)"/>
<rect x="205.89" y="440.50" width="6.65" height="1.00" fill="#ff2020"/>
<rect x="205.89" y="440.50" width="1.00" height="37.80" fill="#ff2020"/>
<rect x="211.54" y="440.50" width="1.00" height="37.80" fill="#ff2020"/>
<rect x="212.84" y="383.75" width="7.25" height="125.65" fill="url(#pg)"/>
<rect x="213.14" y="383.75" width="6.65" height="1.00" fill="#ff2020"/>
<rect x="213.14" y="383.75" width="1.00" height="56.95" fill="#ff2020"/>
<rect x="218.79" y="383.75" width="1.00" height="56.95" fill="#ff2020"/>
<rect x="220.09" y="379.40" width="7.25" height="130.00" fill="url(#pw)"/>
<rect x="220.39" y="379.40" width="6.65" height="1.00" fill="#ff2020"/>
<rect x="220.39" y="379.40" width="1.00" height="47.10" fill="#ff2020"/>
<rect x="226.04" y="379.40" width="1.00" height="47.10" fill="#ff2020"/>
<rect x="227.34" y="394.80" width="7.25" height="114.60" fill="url(#pb)"/>
<rect x="227.64" y="394.80" width="6.65" height="1.00" fill="#ff2020"/>
<rect x="227.64" y="394.80" width="1.00" height="47.60" fill="#ff2020"/>
<rect x="233.29" y="394.80" width="1.00" height="47.60" fill="#ff2020"/>
<rect x="191.64" y="472.55" width="6.15" height="36.85" fill="none" stroke="#505050" stroke-width="1.15"/>
<rect x="191.29" y="472.00" width="6.85" height="1.1" fill="#2a2a2a"/>
<rect x="198.89" y="425.85" width="6.15" height="83.55" fill="none" stroke="#505050" stroke-width="1.15"/>
<rect x="198.54" y="425.30" width="6.85" height="1.1" fill="#2a2a2a"/>
<rect x="206.14" y="478.85" width="6.15" height="30.55" fill="none" stroke="#505050" stroke-width="1.15"/>
<rect x="205.79" y="478.30" width="6.85" height="1.1" fill="#2a2a2a"/>
<rect x="213.39" y="441.25" width="6.15" height="68.15" fill="none" stroke="#505050" stroke-width="1.15"/>
<rect x="213.04" y="440.70" width="6.85" height="1.1" fill="#2a2a2a"/>
<rect x="220.64" y="427.05" width="6.15" height="82.35" fill="none" stroke="#505050" stroke-width="1.15"/>
<rect x="220.29" y="426.50" width="6.85" height="1.1" fill="#2a2a2a"/>
<rect x="227.89" y="442.95" width="6.15" height="66.45" fill="none" stroke="#505050" stroke-width="1.15"/>
<rect x="227.54" y="442.40" width="6.85" height="1.1" fill="#2a2a2a"/>
<rect x="240.53" y="505.30" width="7.25" height="4.10" fill="url(#pb)"/>
<rect x="240.83" y="505.30" width="6.65" height="1.00" fill="#ff2020"/>
<rect x="247.78" y="499.30" width="7.25" height="10.10" fill="url(#pg)"/>
<rect x="248.08" y="499.30" width="6.65" height="1.00" fill="#ff2020"/>
<rect x="248.08" y="499.30" width="1.00" height="1.95" fill="#ff2020"/>
<rect x="253.73" y="499.30" width="1.00" height="1.95" fill="#ff2020"/>
<rect x="255.03" y="505.50" width="7.25" height="3.90" fill="url(#pw)"/>
<rect x="255.33" y="505.50" width="6.65" height="1.00" fill="#ff2020"/>
<rect x="262.28" y="499.80" width="7.25" height="9.60" fill="url(#pg)"/>
<rect x="262.58" y="499.80" width="6.65" height="1.00" fill="#ff2020"/>
<rect x="262.58" y="499.80" width="1.00" height="1.80" fill="#ff2020"/>
<rect x="268.23" y="499.80" width="1.00" height="1.80" fill="#ff2020"/>
<rect x="269.53" y="502.70" width="7.25" height="6.70" fill="url(#pw)"/>
<rect x="269.83" y="502.70" width="6.65" height="1.00" fill="#ff2020"/>
<rect x="269.83" y="502.70" width="1.00" height="1.40" fill="#ff2020"/>
<rect x="275.48" y="502.70" width="1.00" height="1.40" fill="#ff2020"/>
<rect x="276.78" y="503.20" width="7.25" height="6.20" fill="url(#pb)"/>
<rect x="277.08" y="503.20" width="6.65" height="1.00" fill="#ff2020"/>
<rect x="277.08" y="503.20" width="1.00" height="0.90" fill="#ff2020"/>
<rect x="282.73" y="503.20" width="1.00" height="0.90" fill="#ff2020"/>
<rect x="241.08" y="505.75" width="6.15" height="3.65" fill="none" stroke="#505050" stroke-width="1.15"/>
<rect x="240.73" y="505.20" width="6.85" height="1.1" fill="#2a2a2a"/>
<rect x="248.33" y="501.80" width="6.15" height="7.60" fill="none" stroke="#505050" stroke-width="1.15"/>
<rect x="247.98" y="501.25" width="6.85" height="1.1" fill="#2a2a2a"/>
<rect x="255.58" y="504.65" width="6.15" height="4.75" fill="none" stroke="#505050" stroke-width="1.15"/>
<rect x="255.23" y="504.10" width="6.85" height="1.1" fill="#2a2a2a"/>
<rect x="262.83" y="502.15" width="6.15" height="7.25" fill="none" stroke="#505050" stroke-width="1.15"/>
<rect x="262.48" y="501.60" width="6.85" height="1.1" fill="#2a2a2a"/>
<rect x="270.08" y="504.65" width="6.15" height="4.75" fill="none" stroke="#505050" stroke-width="1.15"/>
<rect x="269.73" y="504.10" width="6.85" height="1.1" fill="#2a2a2a"/>
<rect x="277.33" y="504.65" width="6.15" height="4.75" fill="none" stroke="#505050" stroke-width="1.15"/>
<rect x="276.98" y="504.10" width="6.85" height="1.1" fill="#2a2a2a"/>
<rect x="289.97" y="475.50" width="7.25" height="33.90" fill="url(#pb)"/>
<rect x="290.27" y="475.50" width="6.65" height="1.00" fill="#ff2020"/>
<rect x="290.27" y="475.50" width="1.00" height="9.60" fill="#ff2020"/>
<rect x="295.92" y="475.50" width="1.00" height="9.60" fill="#ff2020"/>
<rect x="297.22" y="484.30" width="7.25" height="25.10" fill="url(#pg)"/>
<rect x="297.52" y="484.30" width="6.65" height="1.00" fill="#ff2020"/>
<rect x="297.52" y="484.30" width="1.00" height="1.20" fill="#ff2020"/>
<rect x="303.17" y="484.30" width="1.00" height="1.20" fill="#ff2020"/>
<rect x="304.47" y="441.10" width="7.25" height="68.30" fill="url(#pw)"/>
<rect x="304.77" y="441.10" width="6.65" height="1.00" fill="#ff2020"/>
<rect x="304.77" y="441.10" width="1.00" height="37.20" fill="#ff2020"/>
<rect x="310.42" y="441.10" width="1.00" height="37.20" fill="#ff2020"/>
<rect x="311.72" y="454.40" width="7.25" height="55.00" fill="url(#pg)"/>
<rect x="312.02" y="454.40" width="6.65" height="1.00" fill="#ff2020"/>
<rect x="312.02" y="454.40" width="1.00" height="26.20" fill="#ff2020"/>
<rect x="317.67" y="454.40" width="1.00" height="26.20" fill="#ff2020"/>
<rect x="318.97" y="416.60" width="7.25" height="92.80" fill="url(#pw)"/>
<rect x="319.27" y="416.60" width="6.65" height="1.00" fill="#ff2020"/>
<rect x="319.27" y="416.60" width="1.00" height="56.40" fill="#ff2020"/>
<rect x="324.92" y="416.60" width="1.00" height="56.40" fill="#ff2020"/>
<rect x="326.22" y="420.30" width="7.25" height="89.10" fill="url(#pb)"/>
<rect x="326.52" y="420.30" width="6.65" height="1.00" fill="#ff2020"/>
<rect x="326.52" y="420.30" width="1.00" height="53.80" fill="#ff2020"/>
<rect x="332.17" y="420.30" width="1.00" height="53.80" fill="#ff2020"/>
<rect x="290.52" y="485.65" width="6.15" height="23.75" fill="none" stroke="#505050" stroke-width="1.15"/>
<rect x="290.17" y="485.10" width="6.85" height="1.1" fill="#2a2a2a"/>
<rect x="297.77" y="486.05" width="6.15" height="23.35" fill="none" stroke="#505050" stroke-width="1.15"/>
<rect x="297.42" y="485.50" width="6.85" height="1.1" fill="#2a2a2a"/>
<rect x="305.02" y="478.85" width="6.15" height="30.55" fill="none" stroke="#505050" stroke-width="1.15"/>
<rect x="304.67" y="478.30" width="6.85" height="1.1" fill="#2a2a2a"/>
<rect x="312.27" y="481.15" width="6.15" height="28.25" fill="none" stroke="#505050" stroke-width="1.15"/>
<rect x="311.92" y="480.60" width="6.85" height="1.1" fill="#2a2a2a"/>
<rect x="319.52" y="473.55" width="6.15" height="35.85" fill="none" stroke="#505050" stroke-width="1.15"/>
<rect x="319.17" y="473.00" width="6.85" height="1.1" fill="#2a2a2a"/>
<rect x="326.77" y="474.65" width="6.15" height="34.75" fill="none" stroke="#505050" stroke-width="1.15"/>
<rect x="326.42" y="474.10" width="6.85" height="1.1" fill="#2a2a2a"/>
<rect x="339.41" y="481.70" width="7.25" height="27.70" fill="url(#pb)"/>
<rect x="339.71" y="481.70" width="6.65" height="1.00" fill="#ff2020"/>
<rect x="339.71" y="481.70" width="1.00" height="9.70" fill="#ff2020"/>
<rect x="345.36" y="481.70" width="1.00" height="9.70" fill="#ff2020"/>
<rect x="346.66" y="483.20" width="7.25" height="26.20" fill="url(#pg)"/>
<rect x="346.96" y="483.20" width="6.65" height="1.00" fill="#ff2020"/>
<rect x="346.96" y="483.20" width="1.00" height="1.80" fill="#ff2020"/>
<rect x="352.61" y="483.20" width="1.00" height="1.80" fill="#ff2020"/>
<rect x="353.91" y="455.20" width="7.25" height="54.20" fill="url(#pw)"/>
<rect x="354.21" y="455.20" width="6.65" height="1.00" fill="#ff2020"/>
<rect x="354.21" y="455.20" width="1.00" height="33.90" fill="#ff2020"/>
<rect x="359.86" y="455.20" width="1.00" height="33.90" fill="#ff2020"/>
<rect x="361.16" y="465.30" width="7.25" height="44.10" fill="url(#pg)"/>
<rect x="361.46" y="465.30" width="6.65" height="1.00" fill="#ff2020"/>
<rect x="361.46" y="465.30" width="1.00" height="22.10" fill="#ff2020"/>
<rect x="367.11" y="465.30" width="1.00" height="22.10" fill="#ff2020"/>
<rect x="368.41" y="464.20" width="7.25" height="45.20" fill="url(#pw)"/>
<rect x="368.71" y="464.20" width="6.65" height="1.00" fill="#ff2020"/>
<rect x="368.71" y="464.20" width="1.00" height="25.50" fill="#ff2020"/>
<rect x="374.36" y="464.20" width="1.00" height="25.50" fill="#ff2020"/>
<rect x="375.66" y="469.20" width="7.25" height="40.20" fill="url(#pb)"/>
<rect x="375.96" y="469.20" width="6.65" height="1.00" fill="#ff2020"/>
<rect x="375.96" y="469.20" width="1.00" height="19.00" fill="#ff2020"/>
<rect x="381.61" y="469.20" width="1.00" height="19.00" fill="#ff2020"/>
<rect x="339.96" y="491.95" width="6.15" height="17.45" fill="none" stroke="#505050" stroke-width="1.15"/>
<rect x="339.61" y="491.40" width="6.85" height="1.1" fill="#2a2a2a"/>
<rect x="347.21" y="485.55" width="6.15" height="23.85" fill="none" stroke="#505050" stroke-width="1.15"/>
<rect x="346.86" y="485.00" width="6.85" height="1.1" fill="#2a2a2a"/>
<rect x="354.46" y="489.65" width="6.15" height="19.75" fill="none" stroke="#505050" stroke-width="1.15"/>
<rect x="354.11" y="489.10" width="6.85" height="1.1" fill="#2a2a2a"/>
<rect x="361.71" y="487.95" width="6.15" height="21.45" fill="none" stroke="#505050" stroke-width="1.15"/>
<rect x="361.36" y="487.40" width="6.85" height="1.1" fill="#2a2a2a"/>
<rect x="368.96" y="490.25" width="6.15" height="19.15" fill="none" stroke="#505050" stroke-width="1.15"/>
<rect x="368.61" y="489.70" width="6.85" height="1.1" fill="#2a2a2a"/>
<rect x="376.21" y="488.75" width="6.15" height="20.65" fill="none" stroke="#505050" stroke-width="1.15"/>
<rect x="375.86" y="488.20" width="6.85" height="1.1" fill="#2a2a2a"/>
<rect x="388.85" y="461.00" width="7.25" height="48.40" fill="url(#pb)"/>
<rect x="389.15" y="461.00" width="6.65" height="1.00" fill="#ff2020"/>
<rect x="389.15" y="461.00" width="1.00" height="28.10" fill="#ff2020"/>
<rect x="394.80" y="461.00" width="1.00" height="28.10" fill="#ff2020"/>
<rect x="396.10" y="464.50" width="7.25" height="44.90" fill="url(#pg)"/>
<rect x="396.40" y="464.50" width="6.65" height="1.00" fill="#ff2020"/>
<rect x="396.40" y="464.50" width="1.00" height="25.20" fill="#ff2020"/>
<rect x="402.05" y="464.50" width="1.00" height="25.20" fill="#ff2020"/>
<rect x="403.35" y="437.30" width="7.25" height="72.10" fill="url(#pw)"/>
<rect x="403.65" y="437.30" width="6.65" height="1.00" fill="#ff2020"/>
<rect x="403.65" y="437.30" width="1.00" height="46.10" fill="#ff2020"/>
<rect x="409.30" y="437.30" width="1.00" height="46.10" fill="#ff2020"/>
<rect x="410.60" y="446.90" width="7.25" height="62.50" fill="url(#pg)"/>
<rect x="410.90" y="446.90" width="6.65" height="1.00" fill="#ff2020"/>
<rect x="410.90" y="446.90" width="1.00" height="35.60" fill="#ff2020"/>
<rect x="416.55" y="446.90" width="1.00" height="35.60" fill="#ff2020"/>
<rect x="417.85" y="420.50" width="7.25" height="88.90" fill="url(#pw)"/>
<rect x="418.15" y="420.50" width="6.65" height="1.00" fill="#ff2020"/>
<rect x="418.15" y="420.50" width="1.00" height="67.50" fill="#ff2020"/>
<rect x="423.80" y="420.50" width="1.00" height="67.50" fill="#ff2020"/>
<rect x="425.10" y="418.00" width="7.25" height="91.40" fill="url(#pb)"/>
<rect x="425.40" y="418.00" width="6.65" height="1.00" fill="#ff2020"/>
<rect x="425.40" y="418.00" width="1.00" height="68.60" fill="#ff2020"/>
<rect x="431.05" y="418.00" width="1.00" height="68.60" fill="#ff2020"/>
<rect x="389.40" y="489.65" width="6.15" height="19.75" fill="none" stroke="#505050" stroke-width="1.15"/>
<rect x="389.05" y="489.10" width="6.85" height="1.1" fill="#2a2a2a"/>
<rect x="396.65" y="490.25" width="6.15" height="19.15" fill="none" stroke="#505050" stroke-width="1.15"/>
<rect x="396.30" y="489.70" width="6.85" height="1.1" fill="#2a2a2a"/>
<rect x="403.90" y="483.95" width="6.15" height="25.45" fill="none" stroke="#505050" stroke-width="1.15"/>
<rect x="403.55" y="483.40" width="6.85" height="1.1" fill="#2a2a2a"/>
<rect x="411.15" y="483.05" width="6.15" height="26.35" fill="none" stroke="#505050" stroke-width="1.15"/>
<rect x="410.80" y="482.50" width="6.85" height="1.1" fill="#2a2a2a"/>
<rect x="418.40" y="488.55" width="6.15" height="20.85" fill="none" stroke="#505050" stroke-width="1.15"/>
<rect x="418.05" y="488.00" width="6.85" height="1.1" fill="#2a2a2a"/>
<rect x="425.65" y="487.15" width="6.15" height="22.25" fill="none" stroke="#505050" stroke-width="1.15"/>
<rect x="425.30" y="486.60" width="6.85" height="1.1" fill="#2a2a2a"/>
<line x1="39.5" x2="435.6" y1="509.70" y2="509.70" stroke="#222" stroke-width="1"/>
<line x1="48.70" x2="46.60" y1="510.30" y2="512.70" stroke="#777" stroke-width="0.9"/>
<line x1="64.10" x2="62.00" y1="510.30" y2="512.70" stroke="#777" stroke-width="0.9"/>
<line x1="79.50" x2="77.40" y1="510.30" y2="512.70" stroke="#777" stroke-width="0.9"/>
<line x1="98.14" x2="96.04" y1="510.30" y2="512.70" stroke="#777" stroke-width="0.9"/>
<line x1="113.54" x2="111.44" y1="510.30" y2="512.70" stroke="#777" stroke-width="0.9"/>
<line x1="128.94" x2="126.84" y1="510.30" y2="512.70" stroke="#777" stroke-width="0.9"/>
<line x1="147.58" x2="145.48" y1="510.30" y2="512.70" stroke="#777" stroke-width="0.9"/>
<line x1="162.98" x2="160.88" y1="510.30" y2="512.70" stroke="#777" stroke-width="0.9"/>
<line x1="178.38" x2="176.28" y1="510.30" y2="512.70" stroke="#777" stroke-width="0.9"/>
<line x1="197.02" x2="194.92" y1="510.30" y2="512.70" stroke="#777" stroke-width="0.9"/>
<line x1="212.42" x2="210.32" y1="510.30" y2="512.70" stroke="#777" stroke-width="0.9"/>
<line x1="227.82" x2="225.72" y1="510.30" y2="512.70" stroke="#777" stroke-width="0.9"/>
<line x1="246.46" x2="244.36" y1="510.30" y2="512.70" stroke="#777" stroke-width="0.9"/>
<line x1="261.86" x2="259.76" y1="510.30" y2="512.70" stroke="#777" stroke-width="0.9"/>
<line x1="277.26" x2="275.16" y1="510.30" y2="512.70" stroke="#777" stroke-width="0.9"/>
<line x1="295.90" x2="293.80" y1="510.30" y2="512.70" stroke="#777" stroke-width="0.9"/>
<line x1="311.30" x2="309.20" y1="510.30" y2="512.70" stroke="#777" stroke-width="0.9"/>
<line x1="326.70" x2="324.60" y1="510.30" y2="512.70" stroke="#777" stroke-width="0.9"/>
<line x1="345.34" x2="343.24" y1="510.30" y2="512.70" stroke="#777" stroke-width="0.9"/>
<line x1="360.74" x2="358.64" y1="510.30" y2="512.70" stroke="#777" stroke-width="0.9"/>
<line x1="376.14" x2="374.04" y1="510.30" y2="512.70" stroke="#777" stroke-width="0.9"/>
<line x1="394.78" x2="392.68" y1="510.30" y2="512.70" stroke="#777" stroke-width="0.9"/>
<line x1="410.18" x2="408.08" y1="510.30" y2="512.70" stroke="#777" stroke-width="0.9"/>
<line x1="425.58" x2="423.48" y1="510.30" y2="512.70" stroke="#777" stroke-width="0.9"/>
<line x1="39.80" x2="39.80" y1="509.40" y2="512.40" stroke="#222" stroke-width="0.9"/>
<line x1="89.24" x2="89.24" y1="509.40" y2="512.40" stroke="#222" stroke-width="0.9"/>
<line x1="138.68" x2="138.68" y1="509.40" y2="512.40" stroke="#222" stroke-width="0.9"/>
<line x1="188.12" x2="188.12" y1="509.40" y2="512.40" stroke="#222" stroke-width="0.9"/>
<line x1="237.56" x2="237.56" y1="509.40" y2="512.40" stroke="#222" stroke-width="0.9"/>
<line x1="287.00" x2="287.00" y1="509.40" y2="512.40" stroke="#222" stroke-width="0.9"/>
<line x1="336.44" x2="336.44" y1="509.40" y2="512.40" stroke="#222" stroke-width="0.9"/>
<line x1="385.88" x2="385.88" y1="509.40" y2="512.40" stroke="#222" stroke-width="0.9"/>
<line x1="435.32" x2="435.32" y1="509.40" y2="512.40" stroke="#222" stroke-width="0.9"/>
<text transform="translate(47.30,517.90) rotate(-45)" font-size="7.7" text-anchor="end">to 100</text>
<text transform="translate(62.30,517.90) rotate(-45)" font-size="7.7" text-anchor="end">to 200</text>
<text transform="translate(77.30,517.90) rotate(-45)" font-size="7.7" text-anchor="end">to 400</text>
<text x="65.52" y="547.20" font-size="7.3" text-anchor="middle">None</text>
<text x="115.26" y="534.00" font-size="7.5" text-anchor="middle">Mean</text>
<text x="115.26" y="542.60" font-size="7.5" text-anchor="middle">(back)</text>
<text x="164.70" y="534.00" font-size="7.5" text-anchor="middle">SLR</text>
<text x="164.70" y="542.60" font-size="7.5" text-anchor="middle">(back)</text>
<text x="214.14" y="534.00" font-size="7.5" text-anchor="middle">BRT</text>
<text x="214.14" y="542.60" font-size="7.5" text-anchor="middle">(back)</text>
<text x="263.58" y="534.00" font-size="7.5" text-anchor="middle">SLR</text>
<text x="263.58" y="542.60" font-size="7.5" text-anchor="middle">(bath)</text>
<text x="313.02" y="534.00" font-size="7.5" text-anchor="middle">BRT</text>
<text x="313.02" y="542.60" font-size="7.5" text-anchor="middle">(back+bath)</text>
<text x="362.46" y="534.00" font-size="7.5" text-anchor="middle">MLR</text>
<text x="362.46" y="542.60" font-size="7.5" text-anchor="middle">(back+bath)</text>
<text x="411.90" y="534.00" font-size="7.5" text-anchor="middle">BRT</text>
<text x="411.90" y="542.60" font-size="7.5" text-anchor="middle">(back*bath)</text>
<rect x="347.9" y="38.2" width="60.3" height="71.2" fill="#fff" stroke="#222" stroke-width="1.2"/>
<defs><pattern id="lp0" patternUnits="userSpaceOnUse" width="3.95" height="3.95" patternTransform="rotate(45) translate(0.492,0)"><rect width="3.95" height="3.95" fill="#ffffff"/><rect width="1.7" height="3.95" fill="#000"/></pattern></defs>
<rect x="352.7" y="42.30" width="10.6" height="10.2" fill="url(#lp0)" stroke="#ff3030" stroke-width="0.9"/>
<text x="370.2" y="50.80" font-size="9.3">100 kHz</text>
<defs><pattern id="lp1" patternUnits="userSpaceOnUse" width="3.95" height="3.95" patternTransform="rotate(45) translate(1.714,0)"><rect width="3.95" height="3.95" fill="#bdd7ee"/><rect width="1.7" height="3.95" fill="#000"/></pattern></defs>
<rect x="352.7" y="55.20" width="10.6" height="10.2" fill="url(#lp1)" stroke="#ff3030" stroke-width="0.9"/>
<text x="370.2" y="63.70" font-size="9.3">200 kHz</text>
<defs><pattern id="lp2" patternUnits="userSpaceOnUse" width="3.95" height="3.95" patternTransform="rotate(45) translate(2.935,0)"><rect width="3.95" height="3.95" fill="#6ce888"/><rect width="1.7" height="3.95" fill="#000"/></pattern></defs>
<rect x="352.7" y="68.10" width="10.6" height="10.2" fill="url(#lp2)" stroke="#ff3030" stroke-width="0.9"/>
<text x="370.2" y="76.60" font-size="9.3">400 kHz</text>
<rect x="352.9" y="94.4" width="10.4" height="9.8" fill="#fff" stroke="#222" stroke-width="1.2"/>
<text x="370" y="103.5" font-size="9.6">Fitted</text>
</svg>
</body></html>
